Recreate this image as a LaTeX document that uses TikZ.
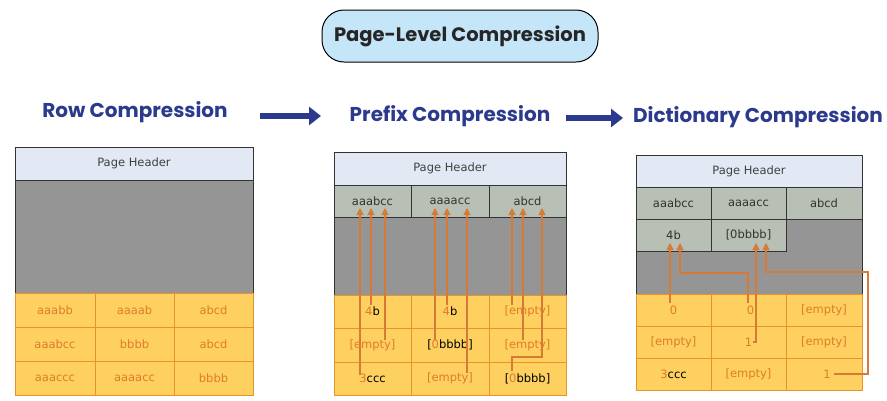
\documentclass[tikz,border=0pt]{standalone}
\usepackage{fontspec}
\setmainfont{DejaVu Sans}
\newfontfamily\headf{Poppins}
\usetikzlibrary{arrows.meta}
\definecolor{navy}{HTML}{2B3A8C}
\definecolor{hdr}{HTML}{E2E8F4}
\definecolor{top}{HTML}{B8BFB4}
\definecolor{gry}{HTML}{959595}
\definecolor{yel}{HTML}{FDD05F}
\definecolor{orb}{HTML}{E8922A}
\definecolor{ort}{HTML}{E07B2A}
\definecolor{arr}{HTML}{D67A35}
\definecolor{ttl}{HTML}{C5E5F8}
\newcommand{\og}[1]{\textcolor{ort}{#1}}
\begin{document}
\begin{tikzpicture}[x=1pt,y=-1pt,
  box/.style={draw=black!80,line width=0.8pt,inner sep=0pt,font=\fontsize{11.5}{13}\selectfont},
  hd/.style={box,fill=hdr,text=black!75},
  tc/.style={box,fill=top,text=black!80},
  gr/.style={draw=black!80,line width=0.8pt,fill=gry},
  yc/.style={draw=orb,line width=0.8pt,fill=yel,inner sep=0pt,font=\fontsize{11.5}{13}\selectfont,text=black},
  heading/.style={text=navy,font=\headf\bfseries\fontsize{20}{22}\selectfont},
  bigarr/.style={navy,line width=6pt,-{Triangle[length=12pt,width=18pt]}},
  pa/.style={arr,line width=1.2pt,-{Triangle[length=7pt,width=7pt]}}]
\useasboundingbox (0,0) rectangle (887,400);
% title
\node[draw=black,line width=1pt,fill=ttl,rounded corners=22pt,minimum width=276pt,minimum height=52pt,text=black!85,font=\headf\bfseries\fontsize{19.5}{21}\selectfont] (title) at (460,36) {Page-Level Compression};
\node[heading] (h1) at (135,112) {Row Compression};
\node[heading] (h2) at (450,116) {Prefix Compression};
\node[heading] (h3) at (758,117) {Dictionary Compression};
\coordinate (a1s) at (260,116); \coordinate (a1e) at (321,116);
\coordinate (a2s) at (566,118); \coordinate (a2e) at (623,118);
\draw[bigarr] (a1s) -- (a1e);
\draw[bigarr] (a2s) -- (a2e);
% panel 1
\draw[gr] (15,180) rectangle (253,293);
\node[hd,minimum width=238pt,minimum height=33pt] (p1h) at (134,163.5) {Page Header};
\foreach \r/\y/\a/\b/\c in {1/310/aaabb/aaaab/abcd,2/344/aaabcc/bbbb/abcd,3/378/aaaccc/aaaacc/bbbb}{
  \node[yc,minimum width=80pt,minimum height=34pt,text=ort] (p1r\r a) at (55,\y) {\a};
  \node[yc,minimum width=79pt,minimum height=34pt,text=ort] (p1r\r b) at (134.5,\y) {\b};
  \node[yc,minimum width=79pt,minimum height=34pt,text=ort] (p1r\r c) at (213.5,\y) {\c};
}
% panel 2
\draw[gr] (334,217) rectangle (566,295);
\node[hd,minimum width=232pt,minimum height=33pt] (p2h) at (450,168.5) {Page Header};
\node[tc,minimum width=77pt,minimum height=32pt] (p2t1) at (372.5,201) {aaabcc};
\node[tc,minimum width=78pt,minimum height=32pt] (p2t2) at (450,201) {aaaacc};
\node[tc,minimum width=77pt,minimum height=32pt] (p2t3) at (527.5,201) {abcd};
\tikzset{y2/.style={yc,minimum height=33.5pt}}
\node[y2,minimum width=77pt] (q11) at (372.5,311.7) {\og{4}b};
\node[y2,minimum width=78pt] (q12) at (450,311.7) {\og{4}b};
\node[y2,minimum width=77pt] (q13) at (527.5,311.7) {\og{[empty]}};
\node[y2,minimum width=77pt] (q21) at (372.5,345.2) {\og{[empty]}};
\node[y2,minimum width=78pt] (q22) at (450,345.2) {[\og{0}bbbb]};
\node[y2,minimum width=77pt] (q23) at (527.5,345.2) {\og{[empty]}};
\node[y2,minimum width=77pt] (q31) at (372.5,378.7) {\og{3}ccc};
\node[y2,minimum width=78pt] (q32) at (450,378.7) {\og{[empty]}};
\node[y2,minimum width=77pt] (q33) at (527.5,378.7) {[\og{0}bbbb]};
\draw[pa] (360,375) coordinate (s1) -- (360,208) coordinate (e1);
\draw[pa] (371,305) coordinate (s2) -- (371,208) coordinate (e2);
\draw[pa] (385,340) coordinate (s3) -- (385,208) coordinate (e3);
\draw[pa] (435,340) coordinate (s4) -- (435,208) coordinate (e4);
\draw[pa] (447,305) coordinate (s5) -- (447,208) coordinate (e5);
\draw[pa] (467,373) coordinate (s6) -- (467,208) coordinate (e6);
\draw[pa] (512,305) coordinate (s7) -- (512,208) coordinate (e7);
\draw[pa] (523,340) coordinate (s8) -- (523,208) coordinate (e8);
\draw[pa] (512,371) coordinate (s9) -- (512,357) -- (542,357) -- (542,208) coordinate (e9);
% panel 3
\draw[gr] (636,219) rectangle (862,294);
\node[hd,minimum width=226pt,minimum height=32pt] (p3h) at (749,171) {Page Header};
\node[tc,minimum width=75pt,minimum height=32pt] (p3t1) at (673.5,203) {aaabcc};
\node[tc,minimum width=75pt,minimum height=32pt] (p3t2) at (748.5,203) {aaaacc};
\node[tc,minimum width=76pt,minimum height=32pt] (p3t3) at (824,203) {abcd};
\node[tc,minimum width=75pt,minimum height=32pt] (p3d1) at (673.5,235) {4b};
\node[tc,minimum width=75pt,minimum height=32pt] (p3d2) at (748.5,235) {[0bbbb]};
\tikzset{y3/.style={yc,minimum height=32pt,text=ort}}
\node[y3,minimum width=75pt] (r11) at (673.5,310) {0};
\node[y3,minimum width=75pt] (r12) at (748.5,310) {\hspace*{4pt}0};
\node[y3,minimum width=76pt] (r13) at (824,310) {[empty]};
\node[y3,minimum width=75pt] (r21) at (673.5,342) {[empty]};
\node[y3,minimum width=75pt] (r22) at (748.5,342) {1};
\node[y3,minimum width=76pt] (r23) at (824,342) {[empty]};
\node[y3,minimum width=75pt] (r31) at (673.5,374) {3\textcolor{black}{ccc}};
\node[y3,minimum width=75pt] (r32) at (748.5,374) {[empty]};
\node[y3,minimum width=76pt] (r33) at (824,374) {\hspace*{6pt}1};
\draw[pa] (670,303) coordinate (d1) -- (670,243);
\draw[pa] (748,303) coordinate (d2) -- (748,273) -- (680,273) -- (680,243);
\draw[pa] (753,342) coordinate (d3) -- (756,342) -- (756,243);
\draw[pa] (834,374) coordinate (d4) -- (868,374) -- (868,272) -- (766,272) -- (766,243);
\end{tikzpicture}
\end{document}
